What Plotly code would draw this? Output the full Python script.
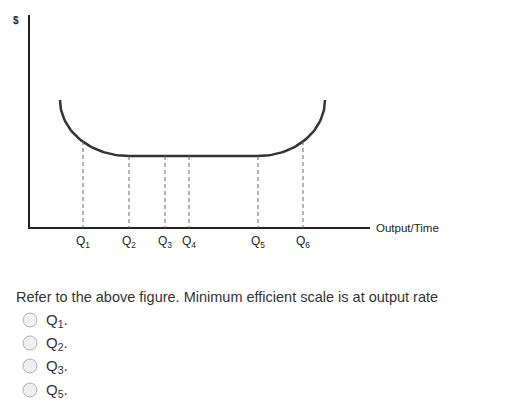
import numpy as np
import plotly.graph_objects as go

q_labels = ["Q<sub>1</sub>", "Q<sub>2</sub>", "Q<sub>3</sub>", "Q<sub>4</sub>", "Q<sub>5</sub>", "Q<sub>6</sub>"]
q_x = [83, 129, 165, 189, 258, 303]
q_top = [141, 156, 156, 156, 156, 141]
flat_start, flat_end, flat_y = 129, 258, 156
curve_top_y = 100
left_x, right_x = 60, 325
options = ["Q<sub>1</sub>.", "Q<sub>2</sub>.", "Q<sub>3</sub>.", "Q<sub>5</sub>."]
option_y = [320, 343, 366, 390]

axis_y = 228
fig = go.Figure()
fig.add_trace(go.Scatter(x=[29, 29, 370], y=[15, axis_y, axis_y], mode="lines",
                         line=dict(color="#222", width=2), hoverinfo="skip"))
t = np.linspace(0, np.pi/2, 40)
rxl = flat_start - left_x; rxr = right_x - flat_end; ry = flat_y - curve_top_y
xl = flat_start - rxl*np.cos(t); yl = curve_top_y + ry*np.sin(t)
xr = flat_end + rxr*np.cos(t[::-1]); yr = curve_top_y + ry*np.sin(t[::-1])
cx = np.concatenate([xl, xr]); cy = np.concatenate([yl, yr])
fig.add_trace(go.Scatter(x=cx, y=cy, mode="lines", line=dict(color="#333", width=2.5), hoverinfo="skip"))
for x, top in zip(q_x, q_top):
    fig.add_trace(go.Scatter(x=[x, x], y=[top, axis_y], mode="lines",
                             line=dict(color="#666", width=1, dash="4px,3px"), hoverinfo="skip"))
for x, lab in zip(q_x, q_labels):
    fig.add_annotation(x=x, y=242, text=lab, showarrow=False, font=dict(size=12, color="#222", family="Arial"))
fig.add_annotation(x=374, y=228, text="Output/Time", showarrow=False, xanchor="left",
                   font=dict(size=11.5, color="#222", family="Arial"))
fig.add_annotation(x=16, y=20, text="<b>$</b>", showarrow=False, font=dict(size=10, color="#222", family="Arial"))
fig.add_annotation(x=14, y=297, text="Refer to the above figure. Minimum efficient scale is at output rate",
                   showarrow=False, xanchor="left", font=dict(size=14.5, color="#333", family="Arial"))
fig.add_trace(go.Scatter(x=[30]*len(option_y), y=option_y, mode="markers",
                         marker=dict(size=14, color="#f0f0f0", line=dict(color="#b0b0b0", width=1)), hoverinfo="skip"))
for y, lab in zip(option_y, options):
    fig.add_annotation(x=44, y=y, text=lab, showarrow=False, xanchor="left",
                       font=dict(size=15, color="#333", family="Arial"))

fig.update_layout(width=505, height=415, margin=dict(l=0, r=0, t=0, b=0), showlegend=False,
                  plot_bgcolor="white", paper_bgcolor="white",
                  xaxis=dict(range=[8, 513], visible=False, fixedrange=True),
                  yaxis=dict(range=[423, 8], visible=False, fixedrange=True))
fig.write_html("out.html")
